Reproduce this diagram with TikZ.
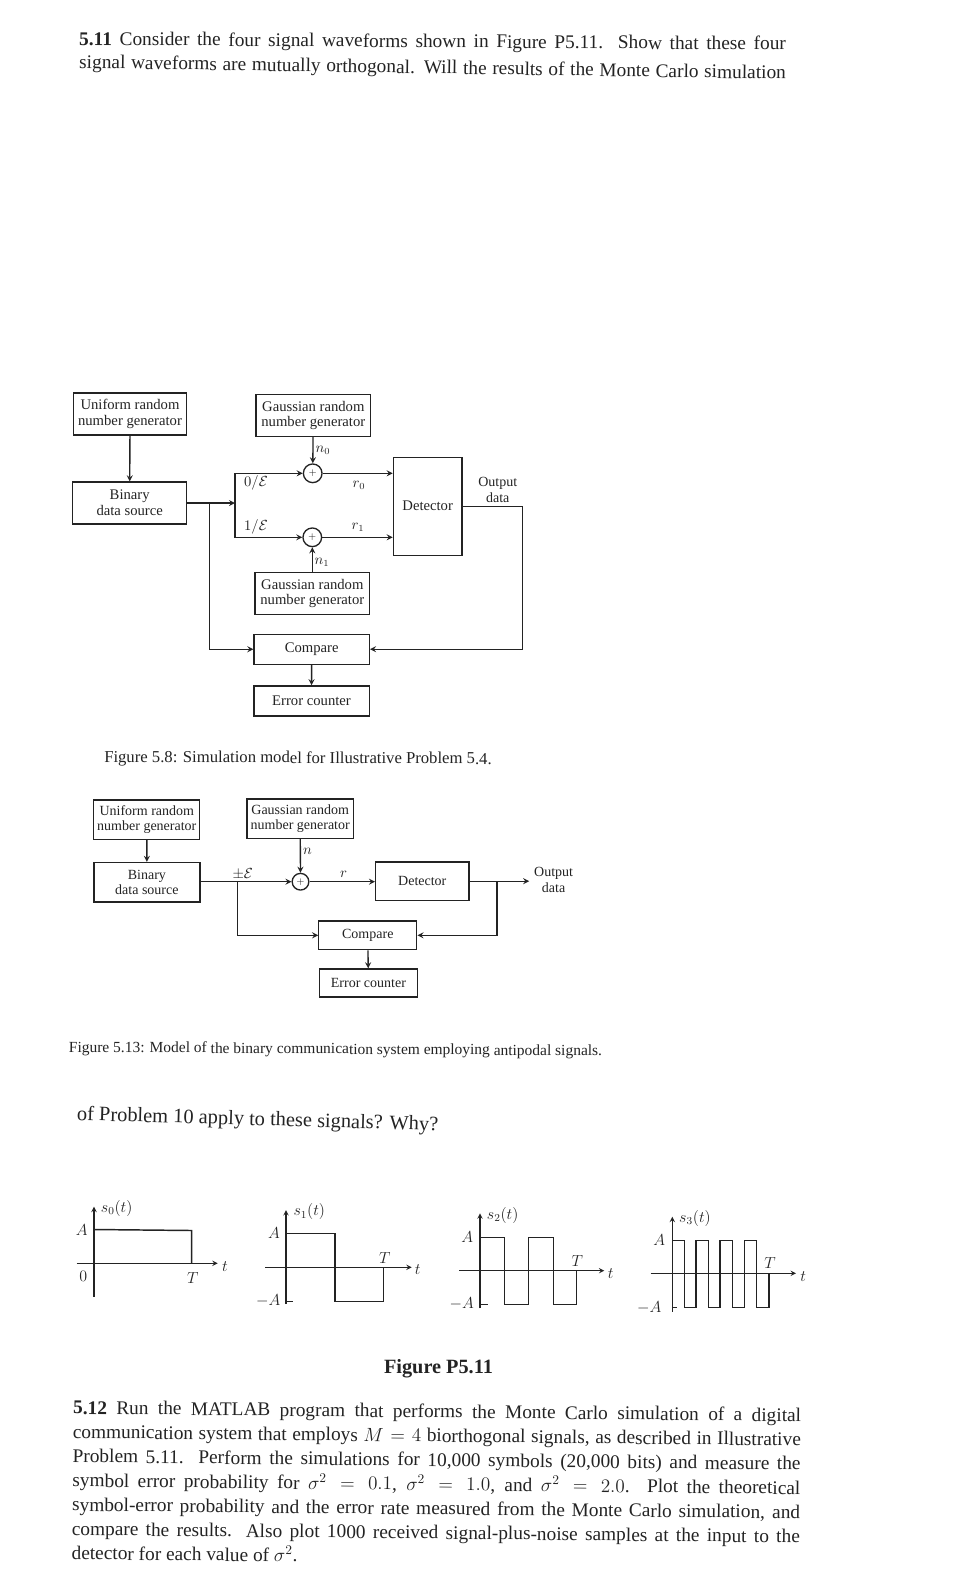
\documentclass[tikz,border=0pt]{standalone}
\usepackage{xcolor}
\usepackage{fontspec}
\setmainfont{Liberation Serif}
\usepackage{tikz}
\usetikzlibrary{positioning}
\definecolor{cink}{RGB}{35,35,35}

\begin{document}
\begin{tikzpicture}[x=0.75pt, y=-0.75pt,
    >=stealth,
    % Box styles
    blockbox/.style={draw=cink, line width=1.0pt, inner sep=0pt, align=center, text=cink,
                     font=\fontsize{11}{11.8}\selectfont},
    smallbox/.style={blockbox, font=\fontsize{10.5}{11}\selectfont},
    adder/.style={draw=cink, circle, line width=1.0pt, inner sep=0pt, minimum size=14pt,
                  text=cink, font=\scriptsize},
    lbl/.style={text=cink, inner sep=0pt, font=\fontsize{10.5}{11.5}\selectfont, align=center},
    wavelbl/.style={text=cink, inner sep=0pt, font=\fontsize{11.5}{12}\selectfont},
    % Lines
    arrow/.style={->, line width=1.0pt, color=cink},
    axisline/.style={->, line width=0.8pt, color=cink},
    waveline/.style={line width=1.1pt, color=cink},
    % Text
    bodyline/.style={anchor=mid west, inner sep=0pt, text=cink, rotate=-0.4,
                     font=\fontsize{14.5}{18}\selectfont},
    caption/.style={anchor=mid west, inner sep=0pt, text=cink, rotate=-0.3,
                    font=\fontsize{12.5}{13}\selectfont},
  ]
  \useasboundingbox (0,0) rectangle (964,1592);

  % ===== Problem text, top =====
  \node[bodyline] (topA) at (79,42) {\makebox[530pt][s]{\textbf{5.11} Consider the four signal waveforms shown in Figure P5.11. Show that these four}};
  \node[bodyline, rotate=-0.5] (topB) at (79,65) {\makebox[530pt][s]{signal waveforms are mutually orthogonal. Will the results of the Monte Carlo simulation}};

  % ===== Figure 5.8 =====
  \node[blockbox, minimum width=85pt, minimum height=31.5pt] (uni1) at (130,414) {Uniform random\\number generator};
  \node[blockbox, minimum width=86pt, minimum height=31.5pt] (gauss0) at (313.3,415.5) {Gaussian random\\number generator};
  \node[blockbox, minimum width=85.5pt, minimum height=31.5pt] (bin1) at (129.7,503) {Binary\\data source};
  \node[adder] (add0) at (312.7,473.3) {$+$};
  \node[adder] (add1) at (312.3,537.3) {$+$};
  \node[blockbox, minimum width=51.5pt, minimum height=73.5pt] (det1) at (427.7,506.2) {Detector};
  \node[blockbox, minimum width=86pt, minimum height=31.5pt] (gauss1) at (312.3,593.5) {Gaussian random\\number generator};
  \node[blockbox, minimum width=86.5pt, minimum height=22.5pt] (cmp1) at (311.7,649.2) {Compare};
  \node[blockbox, minimum width=86.5pt, minimum height=22.5pt] (err1) at (311.5,700.9) {Error counter};

  \coordinate (split1) at (235,503);
  \coordinate (tap1) at (209.3,503);
  \coordinate (out1) at (522.3,506.2);

  \draw[arrow] (uni1) -- (bin1);
  \draw[arrow] (bin1) -- (split1);
  \draw[arrow] (split1) |- (add0);
  \draw[arrow] (split1) |- (add1);
  \draw[arrow] (gauss0) -- (add0);
  \draw[arrow] (gauss1) -- (add1);
  \draw[arrow] (add0) -- (det1.west |- add0);
  \draw[arrow] (add1) -- (det1.west |- add1);
  \draw[arrow] (tap1) |- (cmp1);
  \draw[arrow] (det1) -- (out1) |- (cmp1);
  \draw[arrow] (cmp1) -- (err1);

  \node[lbl] (lblE0) at (256,483) {$0/\mathcal{E}$};
  \node[lbl] (lblE1) at (256,527) {$1/\mathcal{E}$};
  \node[lbl] (lblr0) at (359,485) {$r_0$};
  \node[lbl] (lblr1) at (358,527) {$r_1$};
  \node[lbl] (lbln0) at (323,450) {$n_0$};
  \node[lbl] (lbln1) at (322,562) {$n_1$};
  \node[lbl] (lblout1) at (497.7,490) {Output\\data};
  \node[caption] (cap1) at (104,759) {Figure 5.8: Simulation model for Illustrative Problem 5.4.};

  % ===== Figure 5.13 =====
  \node[smallbox, minimum width=79.5pt, minimum height=29.5pt] (uni2) at (146.8,819.7) {Uniform random\\number generator};
  \node[smallbox, minimum width=80pt, minimum height=29.5pt] (gauss2) at (300.2,818.8) {Gaussian random\\number generator};
  \node[smallbox, minimum width=79.5pt, minimum height=29.5pt] (bin2) at (146.9,882.2) {Binary\\data source};
  \node[adder, minimum size=12.5pt] (add2) at (300.5,881.7) {$+$};
  \node[smallbox, minimum width=70pt, minimum height=28.7pt] (det2) at (422.3,881.2) {Detector};
  \node[smallbox, minimum width=73.5pt, minimum height=21.5pt] (cmp2) at (367.8,935.3) {Compare};
  \node[smallbox, minimum width=73.8pt, minimum height=21pt] (err2) at (368.4,983) {Error counter};

  \coordinate (tap2) at (237.4,881.7);
  \coordinate (tapout2) at (496.9,881.2);
  \coordinate (out2) at (529.2,881.2);

  \draw[arrow] (uni2) -- (bin2);
  \draw[arrow] (bin2.east |- add2) -- (add2);
  \draw[arrow] (gauss2) -- (add2);
  \draw[arrow] (add2) -- (det2.west |- add2);
  \draw[arrow] (det2) -- (out2);
  \draw[arrow] (tap2) |- (cmp2);
  \draw[arrow] (tapout2) |- (cmp2);
  \draw[arrow] (cmp2) -- (err2);

  \node[lbl] (lblE2) at (242.8,874.3) {$\pm\mathcal{E}$};
  \node[lbl] (lbln2) at (307.4,851.7) {$n$};
  \node[lbl] (lblr2) at (343.6,874) {$r$};
  \node[lbl] (lblout2) at (553.6,880) {Output\\data};
  \node[caption, font=\fontsize{11.6}{13}\selectfont, rotate=-0.1] (cap2) at (68.7,1049) {Figure 5.13: Model of the binary communication system employing antipodal signals.};

  \node[bodyline, rotate=-1.3, font=\fontsize{15.3}{18}\selectfont] (midA) at (76.7,1117) {of Problem 10 apply to these signals? Why?};

  % ===== Figure P5.11: s0 =====
  \draw[axisline] (94,1296.7) -- (94,1206.7);
  \draw[axisline] (76.7,1263.3) -- (217.7,1263.3);
  \draw[waveline] (94,1229.5) -- (191.7,1230.5) -- (191.7,1263.3);
  \node[wavelbl] (s0lbl) at (116.7,1208) {$s_0(t)$};
  \node[wavelbl] (s0A) at (81.7,1230) {$A$};
  \node[wavelbl] (s0zero) at (83.3,1276) {$0$};
  \node[wavelbl] (s0T) at (192.7,1278) {$T$};
  \node[wavelbl] (s0t) at (225,1266.7) {$t$};

  % s1
  \draw[axisline] (286,1304) -- (286,1210);
  \draw[axisline] (265,1267.3) -- (411.7,1267.3);
  \draw[waveline] (286,1233.3) -- (335,1233.3) -- (335,1301.7) -- (383.3,1301.7) -- (383.3,1267.3);
  \draw[waveline] (286,1301.7) -- (293.3,1301.7);
  \node[wavelbl] (s1lbl) at (309.3,1211.7) {$s_1(t)$};
  \node[wavelbl] (s1A) at (274,1233) {$A$};
  \node[wavelbl] (s1mA) at (268.3,1300.7) {$-A$};
  \node[wavelbl] (s1T) at (384.7,1258.3) {$T$};
  \node[wavelbl] (s1t) at (417.7,1270) {$t$};

  % s2
  \draw[axisline] (480,1308.3) -- (480,1213.3);
  \draw[axisline] (459.3,1270.7) -- (604.3,1270.7);
  \draw[waveline] (480,1237.3) -- (504.3,1237.3) -- (504.3,1304.3) -- (528.3,1304.3) -- (528.3,1237.3)
    -- (553.3,1237.3) -- (553.3,1304.3) -- (576.7,1304.3) -- (576.7,1270.7);
  \draw[waveline] (480,1304.3) -- (488.3,1304.3);
  \node[wavelbl] (s2lbl) at (502.7,1215) {$s_2(t)$};
  \node[wavelbl] (s2A) at (467.3,1236.7) {$A$};
  \node[wavelbl] (s2mA) at (461.7,1304) {$-A$};
  \node[wavelbl] (s2T) at (577.3,1261) {$T$};
  \node[wavelbl] (s2t) at (610.7,1273.3) {$t$};

  % s3
  \draw[axisline] (672.3,1311.7) -- (672.3,1216.7);
  \draw[axisline] (650.7,1273.3) -- (796,1273.3);
  \draw[waveline] (672.3,1240.7) -- (684.3,1240.7) -- (684.3,1307.7) -- (696,1307.7) -- (696,1240.7)
    -- (708.3,1240.7) -- (708.3,1307.7) -- (720,1307.7) -- (720,1240.7)
    -- (732.7,1240.7) -- (732.7,1307.7) -- (744.3,1307.7) -- (744.3,1240.7)
    -- (756.7,1240.7) -- (756.7,1307.7) -- (769,1307.7) -- (769,1273.3);
  \draw[waveline] (672.3,1307.7) -- (676.7,1307.7);
  \node[wavelbl] (s3lbl) at (695,1218.3) {$s_3(t)$};
  \node[wavelbl] (s3A) at (659.3,1240) {$A$};
  \node[wavelbl] (s3mA) at (649.3,1307.7) {$-A$};
  \node[wavelbl] (s3T) at (770,1262.7) {$T$};
  \node[wavelbl] (s3t) at (803.3,1276.7) {$t$};

  \node[text=cink, inner sep=0pt, font=\fontsize{15.2}{16}\selectfont\bfseries] (capP) at (438.5,1368.5) {Figure P5.11};

  % ===== Problem text, bottom =====
  \node[anchor=north west, inner sep=0pt, text=cink, text width=546pt, align=justify, rotate=-0.6,
        font=\fontsize{14.5}{18.2}\selectfont] (botA) at (73,1400) {%
    \textbf{5.12} Run the MATLAB program that performs the Monte Carlo simulation of a digital\linebreak
    communication system that employs $M=4$ biorthogonal signals, as described in Illustrative\linebreak
    Problem 5.11. Perform the simulations for 10,000 symbols (20,000 bits) and measure the\linebreak
    symbol error probability for $\sigma^2=0.1$, $\sigma^2=1.0$, and $\sigma^2=2.0$. Plot the theoretical\linebreak
    symbol-error probability and the error rate measured from the Monte Carlo simulation, and\linebreak
    compare the results. Also plot 1000 received signal-plus-noise samples at the input to the\linebreak
    detector for each value of $\sigma^2$.};

\end{tikzpicture}
\end{document}
